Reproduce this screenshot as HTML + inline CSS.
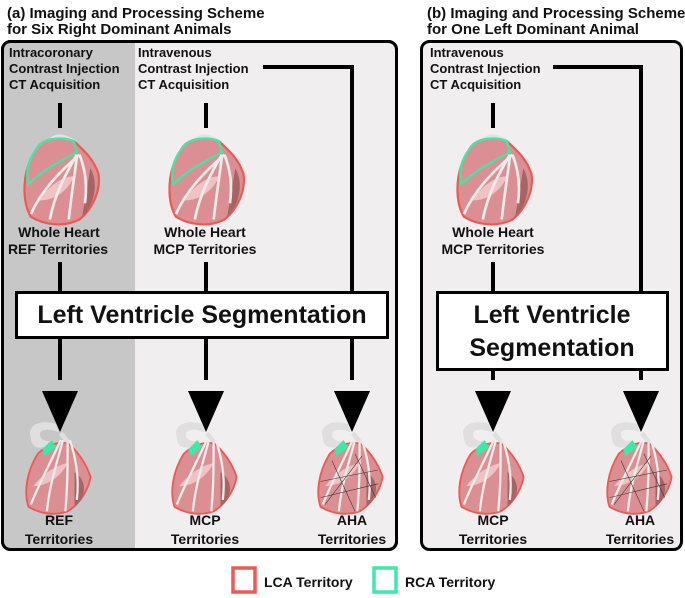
<!DOCTYPE html>
<html><head><style>
body{margin:0;width:685px;height:598px;background:#fff;overflow:hidden}
svg{display:block}
text{font-family:"Liberation Sans",sans-serif;font-weight:bold;fill:#111}
</style></head><body>
<svg width="685" height="598" viewBox="0 0 685 598" xmlns="http://www.w3.org/2000/svg">
<defs>
<g id="heart">
 <path d="M8,-30 C14,-36 22,-32 28,-28 L24,-24 C18,-28 14,-28 10,-26Z" fill="#e4e2e3"/>
 <path d="M-2,-22 C2,-30 16,-32 26,-28 C32,-22 40,-16 44,-4 C46,8 40,22 30,30 C18,36 4,34 -6,28 C-12,18 -12,2 -8,-10Z" fill="#dc8f93" stroke="#ec5a55" stroke-width="1.6"/>
 <path d="M38,-8 C44,2 42,18 32,28 L36,4Z" fill="#a86366"/>
 <path d="M-2,-22 C2,-30 16,-32 26,-28 L28,-20 C18,-14 4,-8 -8,4 C-10,-6 -8,-14 -2,-22Z" fill="#dc8f93" stroke="#3ee8a8" stroke-width="1.6"/>
 <path d="M0,16 C8,4 18,-2 26,-2 C22,8 12,16 0,16Z" fill="#f0c2c4"/>
 <path d="M-6,26 C2,8 16,-6 30,-18 M8,30 C12,10 20,-4 28,-18 M22,30 C24,12 26,0 28,-16 M34,18 C36,4 34,-8 30,-18" stroke="#ececec" stroke-width="2" fill="none"/>
</g>
<g id="heart2">
 <path d="M-8,-28 C-12,-40 2,-44 14,-40 L16,-33 C8,-36 0,-36 0,-31 C0,-26 6,-24 10,-26 L4,-20 C-4,-18 -8,-22 -8,-28Z" fill="#e0dfe0"/>
 <path d="M18,-32 C26,-24 34,-8 38,6" stroke="#e0dfe0" stroke-width="4" fill="none"/>
 <path d="M-2,-14 C6,-22 18,-26 26,-22 C34,-14 40,-6 44,6 C42,18 34,30 24,36 C12,40 0,38 -10,32 C-14,20 -12,2 -2,-14Z" fill="#dc8f93" stroke="#ec5a55" stroke-width="1.6"/>
 <path d="M2,-18 L10,-26 L14,-20 L4,-12Z" fill="#3ee8a8"/>
 <path d="M30,2 C40,8 42,22 30,32Z" fill="#a86366"/>
 <path d="M-6,14 C4,2 14,-4 24,-6 C18,6 6,14 -6,14Z" fill="#f0c2c4"/>
 <path d="M-8,30 C0,10 10,-8 18,-26 M6,36 C8,14 14,-4 20,-26 M22,36 C24,14 24,0 24,-24 M32,26 C34,10 32,-8 26,-26" stroke="#ececec" stroke-width="2" fill="none"/>
</g>
<g id="grid" stroke="#333" stroke-width="0.5" fill="none">
 <path d="M-10,10 L40,0 M-10,24 L40,12 M0,-8 L20,36 M20,-14 L38,24 M-6,30 L26,-12"/>
</g>
<path id="arr" d="M-18,0 L18,0 L0,41Z"/>
</defs>
<text x="7" y="18" font-size="15">(a) Imaging and Processing Scheme</text>
<text x="7" y="34" font-size="15">for Six Right Dominant Animals</text>
<text x="427" y="18" font-size="15">(b) Imaging and Processing Scheme</text>
<text x="427" y="34" font-size="15">for One Left Dominant Animal</text>

<rect x="2.5" y="41.5" width="394" height="508" rx="8" fill="#f1eef0" stroke="#000" stroke-width="3"/>
<path d="M4,43 H135 V548 H10 Q4,548 4,542Z" fill="#c8c7c8"/>
<rect x="2.5" y="41.5" width="394" height="508" rx="8" fill="none" stroke="#000" stroke-width="3"/>
<rect x="421.5" y="41.5" width="260" height="508" rx="8" fill="#f1eef0" stroke="#000" stroke-width="3"/>

<g font-size="13">
<text x="9" y="57">Intracoronary</text><text x="9" y="73">Contrast Injection</text><text x="9" y="89">CT Acquisition</text>
<text x="138" y="57">Intravenous</text><text x="138" y="73">Contrast Injection</text><text x="138" y="89">CT Acquisition</text>
<text x="430" y="57">Intravenous</text><text x="430" y="73">Contrast Injection</text><text x="430" y="89">CT Acquisition</text>
</g>
<g stroke="#000" stroke-width="4" fill="none">
<path d="M60,103 V128 M206,103 V128 M493,103 V128"/>
<path d="M60,262 V380 M206,262 V380 M493,262 V380"/>
<path d="M263,67 H352 V380 M553,67 H641 V380"/>
</g>
<g fill="#000">
<use href="#arr" x="60" y="391"/><use href="#arr" x="206" y="391"/><use href="#arr" x="352" y="391"/>
<use href="#arr" x="493" y="391"/><use href="#arr" x="641" y="391"/>
</g>
<use href="#heart" transform="translate(39,179) scale(1.35)"/>
<use href="#heart" transform="translate(184,179) scale(1.35)"/>
<use href="#heart" transform="translate(472,179) scale(1.35)"/>
<g font-size="14" text-anchor="middle">
<text x="59" y="237">Whole Heart</text><text x="58" y="254">REF Territories</text>
<text x="205" y="237">Whole Heart</text><text x="205" y="254">MCP Territories</text>
<text x="493" y="237">Whole Heart</text><text x="493" y="254">MCP Territories</text>
</g>
<rect x="16.5" y="292.5" width="371" height="45" fill="#fff" stroke="#000" stroke-width="3"/>
<text x="202" y="323" font-size="25" text-anchor="middle">Left Ventricle Segmentation</text>
<rect x="437.5" y="292.5" width="230" height="77" fill="#fff" stroke="#000" stroke-width="3"/>
<text x="552" y="323" font-size="25" text-anchor="middle">Left Ventricle</text>
<text x="552" y="356" font-size="25" text-anchor="middle">Segmentation</text>

<use href="#heart2" transform="translate(40,470) scale(1.15)"/>
<use href="#heart2" transform="translate(186,470) scale(1.15)"/>
<g transform="translate(332,470) scale(1.15)"><use href="#heart2"/><use href="#grid"/></g>
<use href="#heart2" transform="translate(473,470) scale(1.15)"/>
<g transform="translate(621,470) scale(1.15)"><use href="#heart2"/><use href="#grid"/></g>
<g font-size="14" text-anchor="middle">
<text x="59" y="525">REF</text><text x="59" y="544">Territories</text>
<text x="205" y="525">MCP</text><text x="205" y="544">Territories</text>
<text x="352" y="525">AHA</text><text x="352" y="544">Territories</text>
<text x="493" y="525">MCP</text><text x="493" y="544">Territories</text>
<text x="640" y="525">AHA</text><text x="640" y="544">Territories</text>
</g>
<rect x="233" y="568" width="22" height="24" fill="none" stroke="#ec5a55" stroke-width="3.5"/>
<text x="264" y="587" font-size="14">LCA Territory</text>
<rect x="374" y="568" width="22" height="24" fill="none" stroke="#3ee8a8" stroke-width="3.5"/>
<text x="405" y="587" font-size="14">RCA Territory</text>
</svg>
</body></html>
